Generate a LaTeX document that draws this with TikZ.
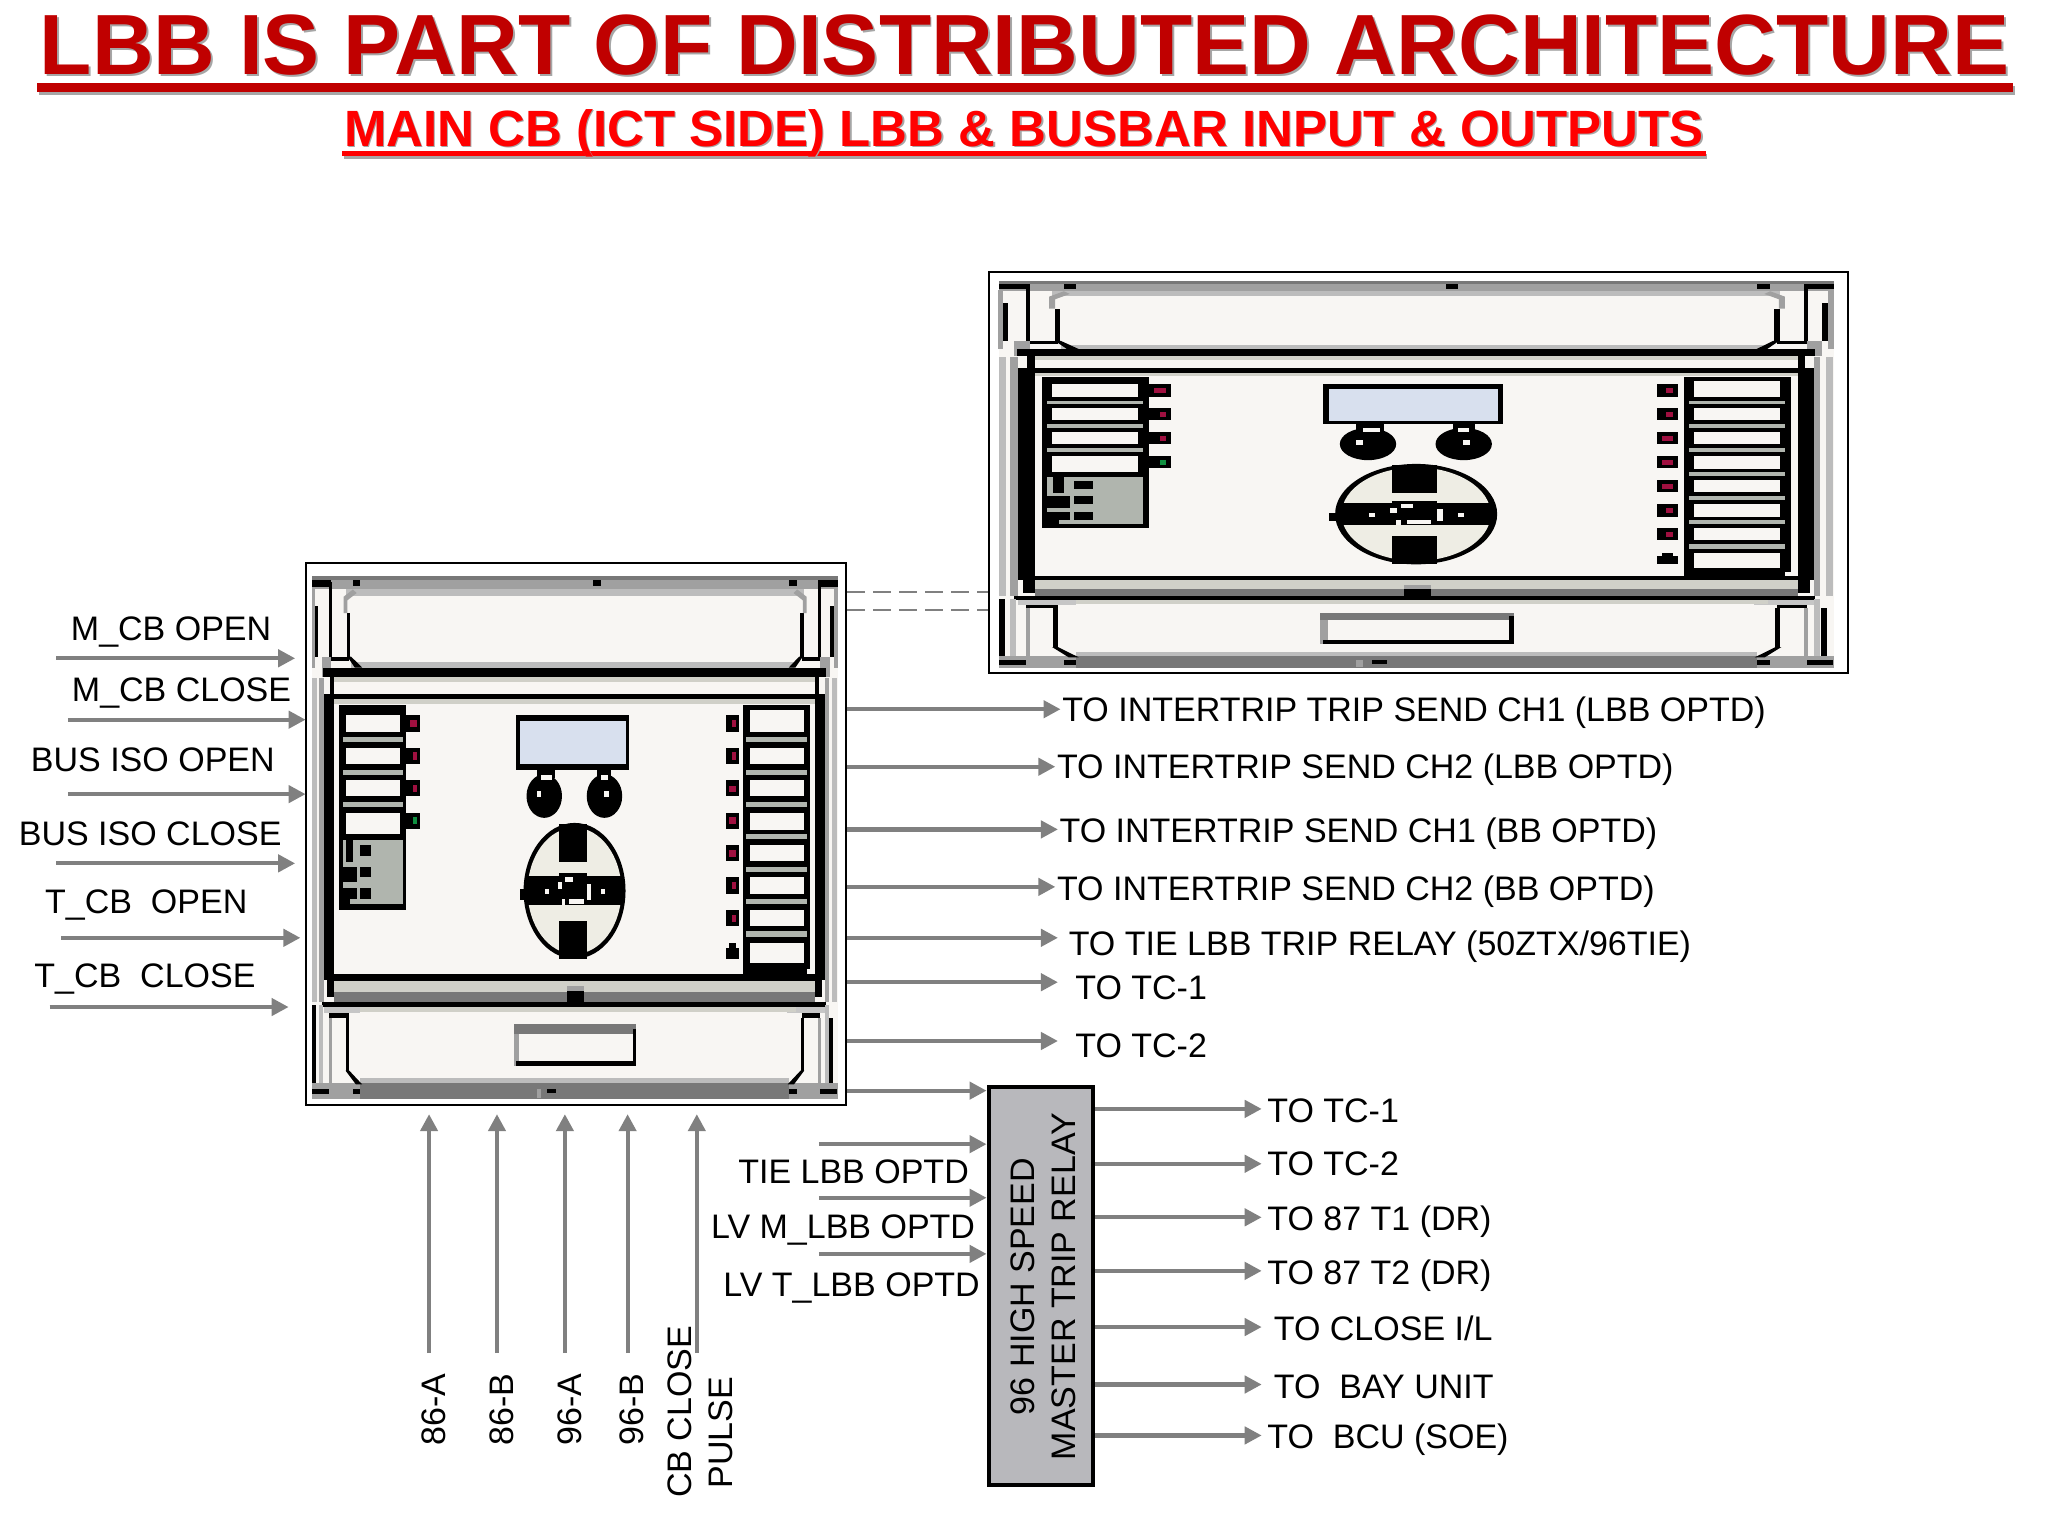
\documentclass[tikz,border=0pt]{standalone}
\usepackage{fontspec}
\setmainfont{Liberation Sans}
\usetikzlibrary{arrows.meta}
\definecolor{ttlred}{HTML}{C00000}
\definecolor{subred}{HTML}{FF0000}
\definecolor{arrgray}{HTML}{808080}
\definecolor{panelbg}{HTML}{F8F6F3}
\definecolor{sepgray}{HTML}{B0B5AE}
\definecolor{lcdblue}{HTML}{D8E0EE}
\definecolor{ledred}{HTML}{A01040}
\definecolor{ledgreen}{HTML}{109040}
\definecolor{palegray}{HTML}{D0D0C8}
\definecolor{midgray}{HTML}{A0A0A0}
\definecolor{darkgray}{HTML}{787878}
\definecolor{boxgray}{HTML}{B8B8BC}
\definecolor{discbg}{HTML}{EEEDE4}
\tikzset{
  arr/.style={draw=arrgray,line width=2.1pt,-{Triangle[length=8.5pt,width=8.5pt,fill=arrgray]}},
  lab/.style={inner sep=0pt,font=\fontsize{17}{20.5}\selectfont,text height=12.2pt,text depth=0pt,text=black},
  rotlab/.style={inner sep=0pt,font=\fontsize{17}{20.5}\selectfont,rotate=90,text=black},
  relayframe/.style={draw=black,line width=1pt,fill=white,inner sep=0pt,rectangle},
  trip/.style={draw=black,line width=2.2pt,fill=boxgray,inner sep=0pt,rectangle},
  titletext/.style={inner sep=0pt,anchor=base,font=\fontsize{42.75}{50}\selectfont\bfseries},
  subtext/.style={inner sep=0pt,anchor=base,font=\fontsize{25.5}{30}\selectfont\bfseries},
  dashlink/.style={draw=arrgray,line width=0.9pt,dash pattern=on 9pt off 4pt}
}
\newcommand{\rr}[5]{\fill[#5] (#1,#2) rectangle (#3,#4);}
\newcommand{\relaybody}{%
  \rr{60}{68}{1482}{1508}{panelbg}
  % top bar and corners
  \rr{60}{68}{1482}{105}{midgray}
  \rr{150}{105}{1390}{125}{midgray!70}
  \rr{60}{68}{1482}{78}{darkgray}
  \rr{60}{78}{112}{97}{black}
  \rr{170}{78}{190}{95}{black}
  \rr{1350}{78}{1372}{95}{black}
  \rr{1430}{78}{1482}{97}{black}
  \rr{820}{78}{842}{95}{black}
  \rr{105}{85}{113}{295}{black}
  \rr{1430}{85}{1438}{295}{black}
  \rr{65}{150}{75}{290}{black}
  \rr{1462}{150}{1472}{290}{black}
  \rr{58}{100}{66}{320}{midgray}
  \rr{1472}{100}{1482}{320}{midgray}
  \rr{85}{290}{112}{345}{midgray}
  \rr{1435}{290}{1462}{345}{midgray}
  % top panel
  \fill[panelbg] (155,122) rectangle (1385,305);
  \rr{155}{170}{163}{295}{black}
  \rr{1380}{170}{1390}{295}{black}
  \rr{112}{290}{160}{302}{black}
  \rr{1385}{290}{1435}{302}{black}
  \rr{165}{305}{1365}{320}{midgray!70}
  \fill[midgray] (145,170) -- (145,125) -- (170,105) -- (180,115) -- (155,135) -- (155,170) -- cycle;
  \fill[midgray] (1398,170) -- (1398,125) -- (1373,105) -- (1363,115) -- (1388,135) -- (1388,170) -- cycle;
  \fill[black] (155,290) -- (165,290) -- (195,320) -- (175,320) -- cycle;
  \fill[black] (1388,290) -- (1378,290) -- (1350,320) -- (1368,320) -- cycle;
  % thick bars
  \rr{90}{320}{1450}{347}{black}
  \rr{120}{347}{1420}{360}{palegray}
  \rr{92}{392}{1448}{408}{black}
  \rr{120}{408}{1420}{420}{palegray}
  \rr{92}{392}{120}{1180}{black}
  \rr{1420}{392}{1448}{1180}{black}
  \rr{108}{347}{120}{392}{black}
  \rr{1420}{347}{1432}{392}{black}
  \rr{60}{350}{72}{1240}{midgray!70}
  \rr{78}{350}{92}{1240}{midgray}
  \rr{1448}{350}{1458}{1240}{midgray}
  \rr{1468}{350}{1480}{1240}{midgray!70}
  \rr{100}{1165}{1440}{1182}{black}
  \rr{120}{1182}{1420}{1215}{palegray}
  \rr{120}{1215}{1420}{1242}{darkgray}
  \rr{750}{1198}{795}{1212}{midgray}
  \rr{750}{1212}{795}{1242}{black}
  \rr{100}{1182}{120}{1228}{black}
  \rr{1420}{1182}{1440}{1228}{black}
  \rr{85}{1240}{1450}{1256}{black}
  % bottom panel
  \rr{92}{1256}{190}{1272}{midgray!60}
  \rr{1345}{1256}{1450}{1272}{midgray!60}
  \rr{190}{1256}{1370}{1270}{palegray}
  \rr{105}{1272}{160}{1285}{black}
  \rr{1385}{1272}{1435}{1285}{black}
  \rr{152}{1285}{160}{1430}{black}
  \rr{1382}{1285}{1390}{1430}{black}
  \rr{105}{1285}{113}{1480}{midgray}
  \rr{1430}{1285}{1438}{1480}{midgray}
  \rr{60}{1250}{70}{1480}{black}
  \rr{1460}{1285}{1470}{1480}{black}
  \rr{78}{1250}{88}{1480}{midgray!70}
  \rr{1448}{1250}{1458}{1480}{midgray!70}
  \rr{60}{1465}{1482}{1508}{midgray}
  \rr{190}{1450}{1350}{1465}{midgray!70}
  \rr{190}{1465}{1350}{1508}{darkgray}
  \fill[black] (150,1430) -- (160,1430) -- (195,1468) -- (178,1468) -- cycle;
  \fill[black] (1392,1430) -- (1382,1430) -- (1347,1468) -- (1364,1468) -- cycle;
  \rr{668}{1480}{680}{1505}{midgray}
  \rr{695}{1480}{720}{1492}{black}
  \rr{60}{1480}{105}{1495}{black}
  \rr{170}{1480}{190}{1495}{black}
  \rr{1350}{1480}{1372}{1495}{black}
  \rr{1435}{1480}{1480}{1495}{black}
  % slot
  \rr{606}{1303}{936}{1328}{darkgray}
  \rr{606}{1328}{620}{1418}{midgray}
  \rr{928}{1315}{936}{1418}{black}
  \rr{612}{1405}{936}{1418}{black}
  % left panel
  \rr{133}{423}{315}{987}{black}
  \foreach \a/\b in {452/497,541/586,630/675,720/778}{\rr{150}{\a}{297}{\b}{panelbg}}
  \foreach \a/\b in {512/526,601/615,690/704}{\rr{142}{\a}{305}{\b}{sepgray}}
  \rr{142}{795}{305}{972}{sepgray}
  \rr{188}{810}{220}{840}{black}
  \rr{188}{868}{220}{898}{black}
  \rr{188}{928}{220}{958}{black}
  \rr{152}{795}{170}{855}{black}
  \rr{142}{868}{180}{912}{black}
  \rr{142}{928}{180}{958}{black}
  \rr{142}{958}{162}{972}{black}
  % left LEDs
  \rr{315}{452}{352}{497}{black}
  \rr{315}{541}{352}{586}{black}
  \rr{315}{630}{352}{675}{black}
  \rr{315}{720}{352}{765}{black}
  \rr{324}{465}{344}{484}{ledred}
  \rr{333}{553}{344}{574}{ledred}
  \rr{333}{643}{344}{663}{ledred}
  \rr{333}{733}{344}{752}{ledgreen}
  % right panel
  \rr{1226}{423}{1408}{1165}{black}
  \foreach \a/\b in {438/497,541/586,630/675,720/768,809/854,898/944,988/1033,1078/1135}{\rr{1244}{\a}{1390}{\b}{panelbg}}
  \foreach \a/\b in {512/526,601/615,690/704,779/793,868/882,958/972,1047/1063}{\rr{1235}{\a}{1398}{\b}{sepgray}}
  \rr{1398}{1150}{1420}{1165}{panelbg}
  % right LEDs
  \foreach \a/\b in {452/497,541/586,630/675,720/765,809/854,898/944,988/1033}{\rr{1180}{\a}{1216}{\b}{black}}
  \rr{1180}{1092}{1216}{1122}{black}
  \rr{1188}{1078}{1207}{1092}{black}
  \rr{1196}{465}{1207}{485}{ledred}
  \rr{1196}{553}{1207}{574}{ledred}
  \rr{1188}{645}{1207}{662}{ledred}
  \rr{1188}{733}{1207}{752}{ledred}
  \rr{1188}{822}{1207}{841}{ledred}
  \rr{1196}{912}{1207}{931}{ledred}
  \rr{1196}{1001}{1207}{1020}{ledred}
  % display
  \rr{612}{452}{918}{601}{black}
  \rr{622}{468}{910}{587}{lcdblue}
  % knobs
  \rr{668}{601}{716}{625}{black}
  \rr{832}{601}{870}{625}{black}
  \fill[black] (688,674) ellipse [x radius=48,y radius=60];
  \fill[black] (851,674) ellipse [x radius=48,y radius=60];
  \rr{680}{615}{708}{630}{panelbg}
  \rr{842}{615}{860}{630}{panelbg}
  \rr{668}{660}{680}{676}{panelbg}
  \rr{850}{660}{862}{676}{panelbg}
  % navigation disc
  \fill[black] (770,935) ellipse [x radius=138,y radius=187];
  \fill[discbg] (770,935) ellipse [x radius=127,y radius=174];
  \rr{728}{752}{805}{855}{black}
  \rr{728}{1018}{805}{1122}{black}
  \rr{635}{895}{905}{975}{black}
  \rr{622}{930}{635}{960}{black}
  \rr{728}{885}{805}{900}{black}
  \rr{745}{898}{765}{912}{panelbg}
  \rr{690}{930}{700}{945}{panelbg}
  \rr{725}{912}{737}{930}{panelbg}
  \rr{805}{915}{815}{960}{panelbg}
  \rr{842}{930}{852}{945}{panelbg}
  \rr{735}{958}{745}{975}{panelbg}
  \rr{755}{958}{795}{972}{panelbg}
}
\begin{document}
\begin{tikzpicture}[x=0.65306pt,y=-0.65306pt]
\useasboundingbox (0,0) rectangle (1568,1176);
\fill[white] (0,0) rectangle (1568,1176);

% title
\fill[gray!70] (29.5,66) rectangle (1542.5,73);
\fill[ttlred] (28,63.5) rectangle (1541,70.5);
\node[titletext,text=gray!70] (titleshadow) at (786,58.6) {LBB IS PART OF DISTRIBUTED ARCHITECTURE};
\node[titletext,text=ttlred] (title) at (784.5,57.4) {LBB IS PART OF DISTRIBUTED ARCHITECTURE};
\fill[gray!70] (263,118) rectangle (1307,121.5);
\fill[subred] (262,115.6) rectangle (1306,119.5);
\node[subtext,text=gray!70] (subshadow) at (785,112.6) {MAIN CB (ICT SIDE) LBB \& BUSBAR INPUT \& OUTPUTS};
\node[subtext,text=subred] (subtitle) at (784,111.8) {MAIN CB (ICT SIDE) LBB \& BUSBAR INPUT \& OUTPUTS};

% relay frames
\node[relayframe,minimum width=270.4pt,minimum height=271pt] (relayA) at (441,638.5) {};
\node[relayframe,minimum width=429.7pt,minimum height=200.5pt] (relayB) at (1086,361.5) {};
\begin{scope}[shift={(222.12,422.1)},xscale=0.2828,yscale=0.278]
  \relaybody
\end{scope}
\begin{scope}[shift={(738.12,201.4)},xscale=0.4495,yscale=0.2056]
  \relaybody
\end{scope}

% dashed link between relays
\coordinate (dashU) at (757,453);
\coordinate (dashL) at (757,467);
\draw[dashlink] (relayA.east |- dashU) -- (relayB.west |- dashU);
\draw[dashlink] (relayA.east |- dashL) -- (relayB.west |- dashL);

% trip relay box
\node[trip,minimum width=52.2pt,minimum height=199pt] (trip) at (797,984.5) {};
\node[rotlab,align=center] (triptext) at (799,985) {96 HIGH SPEED\\MASTER TRIP RELAY};
\coordinate (feed) at (0,835);
\draw[arr] (relayA.east |- feed) -- (trip.west |- feed);

% inputs at left of relay
\foreach \i/\xa/\xb/\y/\tx/\ty/\txt in {
  1/43/226/504/131/481/{M\_CB OPEN},
  2/52/234/551/139/528/{M\_CB CLOSE},
  3/52/234/608/117/581/{BUS ISO OPEN},
  4/43/226/661/115/638/{BUS ISO CLOSE},
  5/47/230/718/112/690/{T\_CB\ \ OPEN},
  6/38/221/771/111/747/{T\_CB\ \ CLOSE}}{
  \coordinate (inS\i) at (\xa,\y);
  \coordinate (inT\i) at (\xb,\y);
  \draw[arr] (inS\i) -- (inT\i);
  \node[lab] (inL\i) at (\tx,\ty) {\txt};
}

% outputs at right of relay
\foreach \i/\xb/\y/\tx/\ty/\txt in {
  1/812/543/813/543/{TO INTERTRIP TRIP SEND CH1 (LBB OPTD)},
  2/808/587/809/587/{TO INTERTRIP SEND CH2 (LBB OPTD)},
  3/810/635/811/636/{TO INTERTRIP SEND CH1 (BB OPTD)},
  4/808/679/809/680/{TO INTERTRIP SEND CH2 (BB OPTD)},
  5/810/718/818/722/{TO TIE LBB TRIP RELAY (50ZTX/96TIE)},
  6/810/752/823/756/{TO TC-1},
  7/810/797/823/800/{TO TC-2}}{
  \coordinate (outT\i) at (\xb,\y);
  \draw[arr] (relayA.east |- outT\i) -- (outT\i);
  \node[lab,anchor=west] (outL\i) at (\tx,\ty) {\txt};
}

% upward inputs
\foreach \i/\x/\lx/\txt in {1/328.5/332/86-A,2/380.5/384/86-B,3/432.5/436/96-A,4/480.5/484/96-B}{
  \coordinate (upS\i) at (\x,1036);
  \coordinate (upT\i) at (\x,853);
  \draw[arr] (upS\i) -- (upT\i);
  \node[rotlab,anchor=west] (upL\i) at (\lx,1107) {\txt};
}
\coordinate (upS5) at (533.5,1036);
\coordinate (upT5) at (533.5,853);
\draw[arr] (upS5) -- (upT5);
\node[rotlab,align=left,anchor=south west] (upL5) at (561,1147) {CB CLOSE\\\hspace{4.6pt}PULSE};

% inputs to the trip relay
\foreach \i/\y/\tx/\ty/\txt in {
  1/876/653.5/897/{TIE LBB OPTD},
  2/917/645.5/939/{LV M\_LBB OPTD},
  3/960/652/983/{LV T\_LBB OPTD}}{
  \coordinate (trS\i) at (627,\y);
  \draw[arr] (trS\i) -- (trip.west |- trS\i);
  \node[lab] (trL\i) at (\tx,\ty) {\txt};
}

% outputs of the trip relay
\foreach \i/\y/\tx/\ty/\txt in {
  1/849/970/850/{TO TC-1},
  2/891/970/891/{TO TC-2},
  3/932/970/933/{TO 87 T1 (DR)},
  4/973/970/974/{TO 87 T2 (DR)},
  5/1016/975/1017/{TO CLOSE I/L},
  6/1060/975/1061/{TO\ \ BAY UNIT},
  7/1099/970/1100/{TO\ \ BCU (SOE)}}{
  \coordinate (ouT\i) at (966,\y);
  \draw[arr] (trip.east |- ouT\i) -- (ouT\i);
  \node[lab,anchor=west] (ouL\i) at (\tx,\ty) {\txt};
}
\end{tikzpicture}
\end{document}
